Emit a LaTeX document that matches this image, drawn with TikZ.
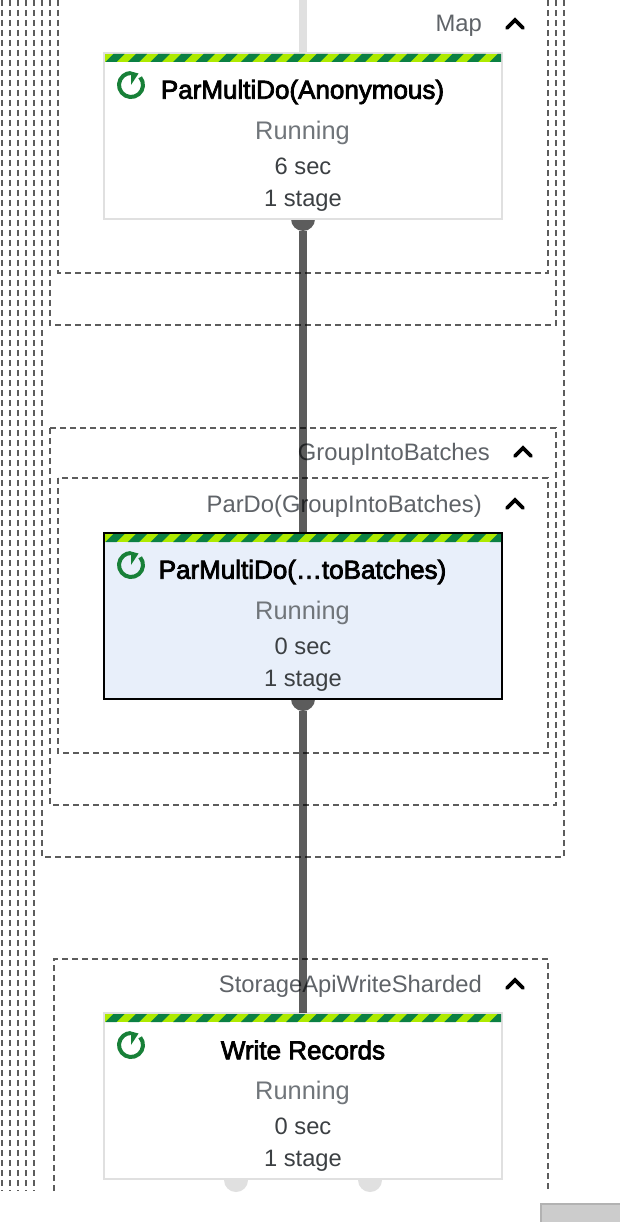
\documentclass[tikz,border=0pt]{standalone}
\usepackage{fontspec}
\setmainfont{Liberation Sans}
\newfontfamily\titlefont{Liberation Sans}[FakeBold=3]
\definecolor{edgegray}{HTML}{5C5C5C}
\definecolor{lightedge}{HTML}{E0E0E0}
\definecolor{stripedark}{HTML}{0B8043}
\definecolor{stripelime}{HTML}{AEEA00}
\definecolor{iconGreen}{HTML}{188038}
\definecolor{selfill}{HTML}{E8EFFA}
\definecolor{muted}{HTML}{70757A}
\definecolor{bodytext}{HTML}{3C4043}
\definecolor{grouplabel}{HTML}{5F6368}
\tikzset{
  x=1pt,y=-1pt,
  groupline/.style={draw=edgegray,line width=1.8pt,dash pattern=on 6pt off 4pt},
  cardbox/.style={draw=lightedge,fill=white,line width=2pt,minimum width=398pt,minimum height=166pt,inner sep=0pt,outer sep=0pt},
  selbox/.style={cardbox,draw=black,fill=selfill},
  heavy/.style={draw=black,draw opacity=0.64,line width=8pt,shorten <=12pt},
  lightheavy/.style={draw=lightedge,line width=8pt},
  glabel/.style={anchor=east,text=grouplabel,font=\fontsize{23.8}{23.8}\selectfont,inner sep=0pt},
  title/.style={anchor=center,text=black,font=\titlefont\fontsize{26}{26}\selectfont,inner sep=0pt},
  status/.style={anchor=center,text=muted,font=\fontsize{25.4}{25.4}\selectfont,inner sep=0pt},
  info/.style={anchor=center,text=bodytext,font=\fontsize{23.7}{23.7}\selectfont,inner sep=0pt}
}
\newcommand{\stripes}[1]{%
  \begin{scope}
    \clip (105,#1) rectangle (501,#1+8);
    \fill[stripelime] (105,#1) rectangle (501,#1+8);
    \foreach \k in {-1,...,18}{
      \fill[stripedark] ({113.3+22.6*\k},#1) -- ({124.6+22.6*\k},#1) -- ({116.6+22.6*\k},#1+8) -- ({105.3+22.6*\k},#1+8) -- cycle;
    }
  \end{scope}}
\newcommand{\runicon}[2]{%
  \begin{scope}[shift={(#1,#2)}]
    \draw[iconGreen,line width=4pt] (9.19,-7.71) arc[start angle=40,end angle=-270,radius=12pt];
    \fill[iconGreen] (0,0) -- (0,-13.5) -- (7.5,-11.5) -- cycle;
  \end{scope}}
\newcommand{\chev}[2]{\draw[black,line width=3.6pt,line cap=round] (#1-8,#2+4) -- (#1,#2-4) -- (#1+8,#2+4);}
\begin{document}
\begin{tikzpicture}
\useasboundingbox (0,0) rectangle (620,1222);
\fill[white] (0,0) rectangle (620,1222);
\foreach \xx in {2,10,18,26,34}{\draw[groupline] (\xx,0) -- (\xx,1191);}
\draw[groupline] (58,0) -- (58,273) -- (548,273) -- (548,0);
\draw[groupline] (50,0) -- (50,325) -- (556,325) -- (556,0);
\draw[groupline] (42,0) -- (42,857) -- (564,857) -- (564,0);
\draw[groupline] (50,428) rectangle (556,805);
\draw[groupline] (58,478) rectangle (548,753);
\draw[groupline] (54,1191) -- (54,959) -- (548,959) -- (548,1191);
\node[glabel] (lmap) at (482,26) {Map};
\chev{515}{24}
\node[glabel] (lgib) at (490,454) {GroupIntoBatches};
\chev{523}{452}
\node[glabel] (lpd) at (482,506) {ParDo(GroupIntoBatches)};
\chev{515}{504}
\node[glabel] (lsw) at (482,986) {StorageApiWriteSharded};
\chev{515}{984}
\coordinate (topfree) at (303,0);
\coordinate (portL) at (236,1180);
\coordinate (portR) at (370,1180);
\fill[lightedge] (portL) circle (12);
\fill[lightedge] (portR) circle (12);
\fill[edgegray] (303,219) circle (12);
\fill[edgegray] (303,699) circle (12);
\node[cardbox] (mapcard) at (303,136) {};
\node[selbox] (batchcard) at (303,616) {};
\node[cardbox] (writecard) at (303,1096) {};
\draw[lightheavy] (topfree) -- (mapcard.north);
\draw[heavy] (mapcard.south) -- (batchcard.north);
\draw[heavy] (batchcard.south) -- (writecard.north);
\stripes{54}\stripes{534}\stripes{1014}
\runicon{131}{85}\runicon{131}{565}\runicon{131}{1045}
\node[title] (t1) at (302.5,92) {ParMultiDo(Anonymous)};
\node[status] (s1) at (302.5,132.5) {Running};
\node[info] (a1) at (303,166) {6 sec};
\node[info] (b1) at (303,201) {1 stage};
\node[title] (t2) at (302.5,572) {ParMultiDo(…toBatches)};
\node[status] (s2) at (302.5,612.5) {Running};
\node[info] (a2) at (303,646) {0 sec};
\node[info] (b2) at (303,681) {1 stage};
\node[title] (t3) at (303,1050) {Write Records};
\node[status] (s3) at (302.5,1092.5) {Running};
\node[info] (a3) at (303,1126) {0 sec};
\node[info] (b3) at (303,1161) {1 stage};
\fill[black!20] (541,1204) rectangle (620,1222);
\draw[black!30,line width=1.5pt] (541,1222) -- (541,1204) -- (620,1204);
\end{tikzpicture}
\end{document}
